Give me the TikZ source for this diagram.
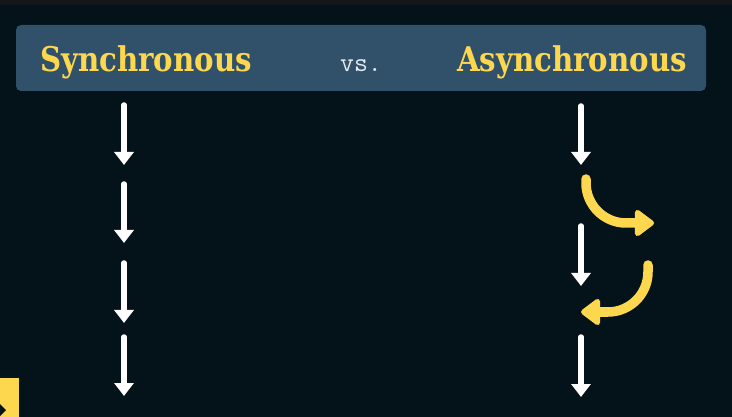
\documentclass[tikz,border=0pt]{standalone}
\usepackage{fontspec}
\setmainfont{DejaVu Serif}
\newfontfamily\titlefont{DejaVu Serif}
\usetikzlibrary{arrows.meta}
\definecolor{bg}{HTML}{041219}
\definecolor{topband}{HTML}{141618}
\definecolor{header}{HTML}{31516A}
\definecolor{gold}{HTML}{FDD84F}
\definecolor{vsgray}{HTML}{E6ECF0}
\tikzset{
  flow/.style={draw=white, line width=5.5pt, line cap=round,
    -{Triangle[width=19pt,length=13pt]}},
  jump/.style={draw=gold, line width=9.5pt, line cap=round,
    -{Triangle[width=30pt,length=21pt,round]}},
  title/.style={text=gold, font=\titlefont\bfseries\fontsize{34}{34}\selectfont, anchor=base, xscale=0.86},
  vslabel/.style={text=vsgray, font=\ttfamily\fontsize{27}{27}\selectfont, anchor=base}
}
\begin{document}
\begin{tikzpicture}[x=1pt,y=-1pt]
\useasboundingbox (0,0) rectangle (732,417);
\fill[bg] (0,0) rectangle (732,417);
\fill[topband] (0,0) rectangle (732,5);
\fill[header, rounded corners=5pt] (16,25) rectangle (706,91);
\node[title] (sync) at (146,72) {Synchronous};
\node[vslabel] (vs) at (361,72) {vs.};
\node[title] (async) at (572,72) {Asynchronous};
% synchronous arrows
\coordinate (s1a) at (124,105); \coordinate (s1b) at (124,165);
\coordinate (s2a) at (124,184); \coordinate (s2b) at (124,243);
\coordinate (s3a) at (124,263); \coordinate (s3b) at (124,323);
\coordinate (s4a) at (124,337); \coordinate (s4b) at (124,396);
\draw[flow] (s1a) -- (s1b);
\draw[flow] (s2a) -- (s2b);
\draw[flow] (s3a) -- (s3b);
\draw[flow] (s4a) -- (s4b);
% asynchronous arrows
\coordinate (a1a) at (581,106); \coordinate (a1b) at (581,165);
\coordinate (a2a) at (581,226); \coordinate (a2b) at (581,286);
\coordinate (a3a) at (581,337); \coordinate (a3b) at (581,397);
\draw[flow] (a1a) -- (a1b);
\draw[flow] (a2a) -- (a2b);
\draw[flow] (a3a) -- (a3b);
\coordinate (j1a) at (586,179); \coordinate (j1b) at (654,223);
\coordinate (j2a) at (648,265); \coordinate (j2b) at (581,312);
\draw[jump] (j1a) -- (586,183) .. controls (586,205) and (604,223) .. (626,223) -- (j1b);
\draw[jump] (j2a) -- (648,272) .. controls (648,294) and (630,312) .. (608,312) -- (j2b);
% partial element at bottom-left
\fill[gold] (0,378) rectangle (19,417);
\fill[bg] (0,404) -- (6,410) -- (0,416) -- cycle;
\end{tikzpicture}
\end{document}
